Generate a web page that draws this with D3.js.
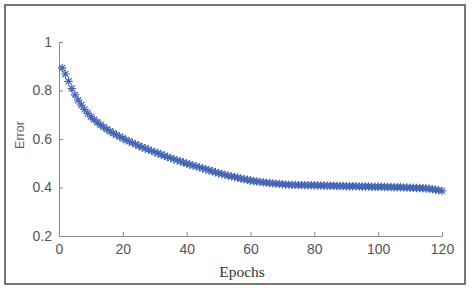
<!DOCTYPE html>
<html>
<head>
<meta charset="utf-8">
<script src="https://cdn.jsdelivr.net/npm/d3@7"></script>
<style>
  body { margin: 0; background: #fff; }
  svg { display: block; }
</style>
</head>
<body>
<div id="chart"></div>
<script>
// error per epoch
const errorValues = [
  0.893, 0.868, 0.838, 0.808, 0.782, 0.760, 0.740, 0.722, 0.706, 0.692,
  0.680, 0.669, 0.659, 0.649, 0.640, 0.632, 0.624, 0.617, 0.610, 0.603,
  0.596, 0.590, 0.584, 0.578, 0.572, 0.566, 0.561, 0.556, 0.551, 0.546,
  0.541, 0.536, 0.531, 0.526, 0.521, 0.517, 0.512, 0.508, 0.503, 0.499,
  0.495, 0.491, 0.487, 0.483, 0.479, 0.475, 0.471, 0.467, 0.463, 0.459,
  0.456, 0.452, 0.449, 0.446, 0.443, 0.440, 0.437, 0.434, 0.432, 0.429,
  0.427, 0.425, 0.423, 0.421, 0.420, 0.418, 0.417, 0.416, 0.415, 0.414,
  0.412, 0.412, 0.411, 0.411, 0.410, 0.410, 0.410, 0.409, 0.409, 0.409,
  0.408, 0.408, 0.408, 0.407, 0.407, 0.407, 0.406, 0.406, 0.406, 0.405,
  0.405, 0.405, 0.405, 0.404, 0.404, 0.404, 0.404, 0.403, 0.403, 0.403,
  0.403, 0.402, 0.402, 0.402, 0.401, 0.401, 0.401, 0.400, 0.400, 0.399,
  0.399, 0.398, 0.398, 0.397, 0.396, 0.395, 0.393, 0.391, 0.389, 0.386
]
const epochs = errorValues.map((_, i) => i + 1)

const xTicks = [0, 20, 40, 60, 80, 100, 120]
const yTicks = [0.2, 0.4, 0.6, 0.8, 1]

const width = 474
const height = 289

const svg = d3.select("#chart")
  .append("svg")
  .attr("width", width)
  .attr("height", height)

// outer frame
svg.append("rect")
  .attr("x", 5).attr("y", 5)
  .attr("width", 460).attr("height", 279)
  .attr("fill", "#fff")
  .attr("stroke", "#4a4a4a")
  .attr("stroke-width", 1.5)

const x = d3.scaleLinear().domain([0, 120]).range([59, 442])
const y = d3.scaleLinear().domain([0.2, 1]).range([236, 42])

const axisColor = "#8a8a8a"
const labelColor = "#555"

// y axis
const yAxis = svg.append("g")
  .attr("transform", `translate(${x(0)},0)`)
  .call(d3.axisLeft(y).tickValues(yTicks).tickSizeInner(-4).tickSizeOuter(0)
    .tickPadding(7).tickFormat(d => d3.format("~g")(d)))
yAxis.select(".domain").attr("stroke", axisColor)
yAxis.selectAll(".tick line").attr("stroke", axisColor)
yAxis.selectAll("text")
  .attr("font-family", "'Liberation Sans', Arial, sans-serif")
  .attr("font-size", 14)
  .attr("fill", labelColor)

// x axis
const xAxis = svg.append("g")
  .attr("transform", `translate(0,${y(0.2)})`)
  .call(d3.axisBottom(x).tickValues(xTicks).tickSizeInner(-4).tickSizeOuter(0)
    .tickPadding(8))
xAxis.select(".domain").attr("stroke", axisColor)
xAxis.selectAll(".tick line").attr("stroke", axisColor)
xAxis.selectAll("text")
  .attr("font-family", "'Liberation Sans', Arial, sans-serif")
  .attr("font-size", 14)
  .attr("fill", labelColor)

// axis titles
svg.append("text")
  .attr("x", 242).attr("y", 277)
  .attr("text-anchor", "middle")
  .attr("font-family", "'Liberation Serif', 'Times New Roman', serif")
  .attr("font-size", 15.5)
  .attr("fill", "#333")
  .text("Epochs")

svg.append("text")
  .attr("transform", "translate(24,135) rotate(-90)")
  .attr("text-anchor", "middle")
  .attr("font-family", "'Liberation Sans', Arial, sans-serif")
  .attr("font-size", 12.5)
  .attr("fill", "#666")
  .text("Error")

// asterisk markers
const r = 4.2
const d45 = r * 0.72
const star = `M${-r},0H${r}M0,${-r}V${r}M${-d45},${-d45}L${d45},${d45}M${-d45},${d45}L${d45},${-d45}`

svg.append("g")
  .selectAll("path")
  .data(epochs)
  .join("path")
  .attr("transform", (d, i) => `translate(${x(d)},${y(errorValues[i])})`)
  .attr("d", star)
  .attr("fill", "none")
  .attr("stroke", "#4565b5")
  .attr("stroke-width", 1.2)
</script>
</body>
</html>
